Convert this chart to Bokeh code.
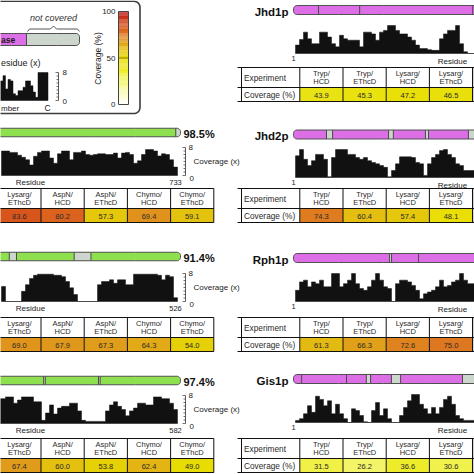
import numpy as np
from bokeh.plotting import figure
from bokeh.models import Range1d
from bokeh.core.properties import value
from bokeh.embed import file_html
from bokeh.resources import INLINE

FONT = "Liberation Sans"

# ---------------- data ----------------
right_names = ["Jhd1p", "Jhd2p", "Rph1p", "Gis1p"]
right_lengths = [492, 728, 796, 894]
right_cols = [("Tryp/", "HCD"), ("Tryp/", "EThcD"), ("Lysarg/", "HCD"), ("Lysarg/", "EThcD")]
right_cov = [
    [43.9, 45.3, 47.2, 46.5],
    [74.3, 60.4, 57.4, 48.1],
    [61.3, 66.3, 72.6, 75.0],
    [31.5, 26.2, 36.6, 30.6],
]
# uncovered stretches (residues) and domain boundaries (residues)
right_gaps = [[], [(76, 90), (219, 230), (304, 311), (403, 430)], [(242, 247)], [(206, 218), (277, 303), (478, 530)]]
right_marks = [[39, 103, 279], [], [315], [23, 150]]

left_cols = [("Lysarg/", "EThcD"), ("AspN/", "HCD"), ("AspN/", "EThcD"), ("Chymo/", "HCD"), ("Chymo/", "EThcD")]
left_cov = [
    [83.6, 80.2, 57.3, 69.4, 59.1],
    [69.0, 67.9, 67.3, 64.3, 54.0],
    [67.4, 60.0, 53.8, 62.4, 49.0],
]
left_lengths = [733, 526, 582]
left_total = ["98.5%", "91.4%", "97.4%"]
left_gaps = [[(722, 733)], [(241, 253), (349, 377)], [(330, 333), (431, 434)]]

# sequence depth (x) per window, N-terminal part for the right column
jhd1_depth = [2.4, 4.0, 6.1, 4.2, 2.8, 2.8, 6.1, 6.1, 4.7, 2.8, 1.9, 5.2, 4.2, 3.8, 3.8, 3.8, 1.9,
              6.1, 6.1, 5.6, 3.8, 6.1, 6.6, 8.0, 8.0, 6.6, 5.6, 5.6, 4.7, 3.8, 2.4, 1.4, 1.4, 1.1,
              0.9, 0.9, 4.2, 5.6, 6.6, 6.6, 8.0, 2.8, 0.5, 0.0, 0.0]
jhd2_depth = [6.2, 8.0, 5.2, 3.4, 4.8, 6.6, 6.6, 5.2, 0.2, 5.7, 8.0, 8.0, 8.0, 6.6, 6.6, 5.7, 5.2,
              5.7, 4.8, 4.3, 3.9, 3.4, 2.9, 0.2, 2.0, 3.9, 5.9, 5.9, 5.9, 5.7, 4.3, 3.9, 0.6, 3.9,
              5.7, 6.6, 7.7, 8.0, 6.6, 5.7, 3.9, 3.4, 2.0, 2.0, 2.0]
rph1_depth = [3.2, 5.6, 6.1, 4.2, 5.6, 5.1, 6.1, 4.2, 4.2, 8.0, 8.0, 4.2, 5.1, 6.1, 8.0, 5.1, 3.7,
              3.2, 4.2, 6.1, 8.0, 6.1, 4.2, 3.7, 0.0, 5.1, 6.1, 6.1, 5.6, 4.6, 3.2, 0.8, 2.2, 2.7,
              3.2, 4.2, 6.1, 4.2, 4.6, 5.6, 6.1, 8.0, 6.1, 5.1, 5.1]
gis1_depth = [0.6, 1.1, 2.5, 4.8, 2.9, 7.5, 6.6, 4.8, 6.2, 2.5, 5.2, 2.5, 1.1, 0.0, 3.9, 3.4, 2.0,
              0.2, 0.0, 3.4, 5.7, 2.0, 3.9, 1.1, 0.0, 0.0, 2.0, 4.3, 6.2, 8.0, 8.0, 5.2, 3.9, 2.5,
              4.3, 2.5, 4.3, 6.6, 7.5, 5.2, 2.0, 1.1, 0.6, 0.6, 0.6]
right_depths = [jhd1_depth, jhd2_depth, rph1_depth, gis1_depth]

# C-terminal part for the left column
left1_depth = [7.0, 7.0, 6.6, 6.6, 5.8, 5.2, 4.5, 3.0, 5.5, 6.6, 7.0, 7.0, 5.0, 3.5, 6.2, 7.0, 7.0,
               4.5, 6.6, 6.6, 7.0, 6.0, 5.8, 6.0, 6.2, 6.2, 6.0, 6.0, 6.4, 5.0, 6.4, 6.6, 6.0, 3.5,
               4.2, 6.0, 7.4, 7.4, 7.0, 5.6, 6.2, 6.0, 4.5, 2.4]
left2_depth = [4.3, 0.0, 0.0, 0.0, 0.0, 2.9, 4.8, 6.6, 7.5, 7.8, 7.8, 7.8, 7.8, 7.5, 7.5, 7.1, 5.7,
               3.9, 2.0, 0.0, 0.0, 0.0, 0.0, 0.0, 4.8, 5.7, 5.7, 6.2, 5.2, 6.2, 6.2, 4.8, 4.8, 7.8,
               7.8, 7.8, 7.8, 7.8, 7.8, 7.5, 6.2, 7.5, 7.1, 1.1]
left3_depth = [7.1, 7.1, 7.6, 7.6, 5.8, 6.7, 7.6, 7.6, 7.6, 6.2, 6.2, 0.9, 3.0, 5.3, 2.7, 4.4, 4.9,
               4.9, 5.8, 5.8, 3.6, 0.9, 0.6, 0.6, 0.6, 0.6, 0.6, 3.6, 5.3, 6.2, 4.9, 4.0, 2.2, 3.6,
               4.4, 5.8, 5.8, 5.3, 5.3, 7.6, 7.6, 7.1, 7.1, 5.8, 4.0]
left_depths = [left1_depth, left2_depth, left3_depth]

# example profile in the key
key_depth = [5.6, 7.1, 3.3, 6.0, 5.6, 1.9, 1.4, 2.8, 2.8, 3.8, 5.6, 5.6, 4.2, 2.4, 0.9, 8.0, 8.0, 8.0, 8.0]

# colour scale for sequence coverage (%)
cov_stops = [0, 20, 35, 50, 60, 68, 76, 84, 100]
cov_colors = ["#ffffff", "#f6f890", "#eeee30", "#e8dc00", "#e4c010", "#e0981c", "#de7420", "#d8541c", "#bc1a1a"]

# ---------------- helpers ----------------
def hex2rgb(h):
    return np.array([int(h[i:i + 2], 16) for i in (1, 3, 5)], float)

_rgb = np.array([hex2rgb(c) for c in cov_colors])

def cmap(v):
    r = np.interp(v, cov_stops, _rgb[:, 0])
    g = np.interp(v, cov_stops, _rgb[:, 1])
    b = np.interp(v, cov_stops, _rgb[:, 2])
    return "#%02x%02x%02x" % (int(round(r)), int(round(g)), int(round(b)))

W = H = 474
p = figure(width=W, height=H, x_range=Range1d(0, W), y_range=Range1d(H, 0),
           x_axis_type=None, y_axis_type=None, output_backend="svg",
           toolbar_location=None, min_border=0)
p.grid.visible = False
p.outline_line_color = None
p.background_fill_color = "white"
p.border_fill_color = "white"

def txt(x, y, s, size=8.0, align="left", style="normal", color="#1a1a1a", angle=0.0, baseline="middle"):
    p.text(x=[x], y=[y], text=[s], text_font=value(FONT), text_font_size=f"{size}px",
           text_align=align, text_baseline=baseline, text_font_style=style,
           text_color=color, angle=angle)

def pill_part(xa, xb, X0, X1, yc, h, rad):
    caps = np.concatenate([X0 + rad - rad * np.cos(np.linspace(0, np.pi / 2, 12)),
                           X1 - rad + rad * np.sin(np.linspace(0, np.pi / 2, 12))])
    xs = np.concatenate([[xa, xb], np.linspace(xa, xb, 8), caps[(caps > xa) & (caps < xb)]])
    xs = np.unique(xs)
    half = []
    for x in xs:
        hh = h / 2
        if x < X0 + rad:
            dx = X0 + rad - x
            hh = h / 2 - rad + np.sqrt(max(rad * rad - dx * dx, 0))
        elif x > X1 - rad:
            dx = x - (X1 - rad)
            hh = h / 2 - rad + np.sqrt(max(rad * rad - dx * dx, 0))
        half.append(hh)
    half = np.array(half)
    px = list(xs) + list(xs[::-1])
    py = list(yc - half) + list((yc + half)[::-1])
    return px, py

def seq_bar(X0, X1, yc, h, length, gaps, marks, fill, gap_fill="#cdd6cd"):
    rad = min(h / 2, 3.5)
    sc = (X1 - X0) / length
    px, py = pill_part(X0, X1, X0, X1, yc, h, rad)
    p.patch(px, py, fill_color=fill, line_color=None)
    for a, b in gaps:
        xa, xb = X0 + a * sc, min(X0 + b * sc, X1)
        gx, gy = pill_part(xa, xb, X0, X1, yc, h, rad)
        p.patch(gx, gy, fill_color=gap_fill, line_color=None)
        for xe in (xa, xb):
            if X0 + 1 < xe < X1 - 1:
                p.segment(x0=[xe], y0=[yc - h / 2], x1=[xe], y1=[yc + h / 2], line_color="#4a4a4a", line_width=1)
    for m in marks:
        xe = X0 + m * sc
        p.segment(x0=[xe], y0=[yc - h / 2], x1=[xe], y1=[yc + h / 2], line_color="#4a4a4a", line_width=1)
    p.patch(px, py, fill_color=None, line_color="#505050", line_width=1)

def profile(x_start, bw, base, depth, k=3.5):
    xs, ys = [x_start], [base]
    for i, d in enumerate(depth):
        xs += [x_start + i * bw, x_start + (i + 1) * bw]
        ys += [base - d * k, base - d * k]
    xs.append(x_start + len(depth) * bw)
    ys.append(base)
    p.patch(xs, ys, fill_color="#111111", line_color="#111111", line_width=0.5)

def table(first_x, col_x0, col_w, top, cols, vals, right_edge_ext, label_col=True):
    hh, vh = 20, 14
    n = len(cols)
    xs = [col_x0 + i * col_w for i in range(n + 1)]
    for i, v in enumerate(vals):
        p.quad(left=[xs[i]], right=[xs[i + 1]], top=[top + hh], bottom=[top + hh + vh],
               fill_color=cmap(v), line_color=None)
        cx = (xs[i] + xs[i + 1]) / 2
        txt(cx, top + hh + vh / 2 + 0.5, f"{v:.1f}", size=7.5, align="center", color="#2a2a2a")
        txt(cx, top + 5.5, cols[i][0], size=7.5, align="center", color="#2a2a2a")
        txt(cx, top + 13.5, cols[i][1], size=7.5, align="center", color="#2a2a2a")
    left = first_x if label_col else xs[0]
    if label_col:
        txt(first_x + 2.5, top + 10, "Experiment", size=8.3, color="#2a2a2a")
        txt(first_x + 2.5, top + hh + vh / 2 + 0.5, "Coverage (%)", size=8.3, color="#2a2a2a")
    for yy in (top, top + hh, top + hh + vh):
        p.segment(x0=[min(left, xs[0]) - 4], y0=[yy], x1=[right_edge_ext], y1=[yy], line_color="#111111", line_width=1)
    vx = ([first_x] if label_col else []) + xs
    for x in vx:
        p.segment(x0=[x], y0=[top], x1=[x], y1=[top + hh + vh], line_color="#111111", line_width=1)

def small_axis(x, base, k=3.5):
    top = base - 8 * k
    p.segment(x0=[x], y0=[base], x1=[x], y1=[top], line_color="#333333", line_width=0.8)
    for j in range(9):
        ln = 3 if j in (0, 8) else 2
        p.segment(x0=[x - ln], y0=[base - j * k], x1=[x], y1=[base - j * k], line_color="#333333", line_width=0.7)

# ---------------- key (top left) ----------------
box_x = [-6, 133.5] + [133.5 + 6 * np.sin(t) for t in np.linspace(0, np.pi / 2, 8)] + \
        [139.5, 139.5] + [133.5 + 6 * np.cos(t) for t in np.linspace(0, np.pi / 2, 8)] + [133.5, -6]
box_y = [0.8, 0.8] + [6.8 - 6 * np.cos(t) for t in np.linspace(0, np.pi / 2, 8)] + \
        [6.8, 107] + [107 + 6 * np.sin(t) for t in np.linspace(0, np.pi / 2, 8)] + [113, 113]
p.line(box_x, box_y, line_color="#3c3c3c", line_width=1.6)

txt(53, 17.5, "not covered", size=9, align="center", style="italic", color="#333333")
p.line([27, 29, 50, 53, 56, 77, 79], [31, 28.5, 28.5, 25.5, 28.5, 28.5, 31], line_color="#444444", line_width=0.9)
seq_bar(-80, 79, 39, 12, 159, [(106, 159)], [], fill="#dc6ee6")
txt(0.5, 39.5, "ase", size=8.5, style="bold", color="#1a1a1a")
txt(0.5, 62, "esidue (x)", size=9)
profile(0, 2.5, 100, key_depth)
small_axis(58, 100)
txt(62, 72, "8", size=8)
txt(62, 100.5, "0", size=8)
txt(0.5, 107.5, "mber", size=8)
txt(47, 107.5, "C", size=8.5, align="center")

# colour bar
cb_x0, cb_x1, cb_top, cb_bot = 118, 128, 11, 104
levels = np.linspace(0, 100, 101)
step = (cb_bot - cb_top) / 100
p.quad(left=cb_x0, right=cb_x1,
       bottom=[cb_bot - v * step for v in levels[:-1]],
       top=[cb_bot - (v + 1) * step - 0.05 for v in levels[:-1]],
       fill_color=[cmap(v + 0.5) for v in levels[:-1]], line_color=None)
p.segment(x0=[cb_x0], y0=[cb_bot - 50 * step], x1=[cb_x1], y1=[cb_bot - 50 * step], line_color="#8a7a10", line_width=1)
p.quad(left=[cb_x0], right=[cb_x1], top=[cb_top], bottom=[cb_bot], fill_color=None, line_color="#444444", line_width=1)
for v in (0, 50, 100):
    txt(115, cb_bot - v * step, str(v), size=8, align="right")
txt(97.5, 58, "Coverage (%)", size=8.5, align="center", angle=np.pi / 2)

# ---------------- left column ----------------
L_X0, L_X1 = -136, 180
l_bar_y = [132, 256, 380]
l_base = [175, 301, 423]
l_top = [188, 317, 438]
for i in range(3):
    seq_bar(L_X0, L_X1, l_bar_y[i], 8.5, left_lengths[i], left_gaps[i], [], fill="#8fe04e")
    txt(183, l_bar_y[i] + 1, left_total[i], size=11, style="bold", color="#111111")
    d = left_depths[i]
    profile(177 - 4 * len(d), 4, l_base[i], d)
    small_axis(185, l_base[i])
    txt(188, l_base[i] - 28.5, "8", size=8)
    txt(189, l_base[i] + 2.5, "0", size=8)
    txt(193, l_base[i] - 14, "Coverage (x)", size=8)
    txt(175, l_base[i] + 6.5, str(left_lengths[i]), size=7.5, align="center")
    txt(30, l_base[i] + 7, "Residue", size=8, align="center")
    table(None, -2.7, 43.2, l_top[i], left_cols, left_cov[i], 213.3, label_col=False)

# ---------------- right column ----------------
R_X0, R_X1 = 293, 609
r_bar_y = [9.5, 134, 257.5, 378.5]
r_base = [53, 177, 301, 422]
r_top = [67, 188, 317, 438]
for i in range(4):
    seq_bar(R_X0, R_X1, r_bar_y[i], 9, right_lengths[i], right_gaps[i], right_marks[i], fill="#dc6ee6")
    txt(288, r_bar_y[i] + 1.5, right_names[i], size=11.5, align="right", style="bold", color="#111111")
    profile(295, 4, r_base[i], right_depths[i])
    txt(293, r_base[i] + 4.5, "1", size=7.5, align="center")
    txt(452, r_base[i] + 8, "Residue", size=8, align="center")
    table(241, 299.3, 43.2, r_top[i], right_cols, right_cov[i], 480)
    p.segment(x0=[472.1], y0=[r_top[i]], x1=[472.1], y1=[r_top[i] + 34], line_color="#111111", line_width=1)

open("out.html", "w").write(file_html(p, INLINE))
